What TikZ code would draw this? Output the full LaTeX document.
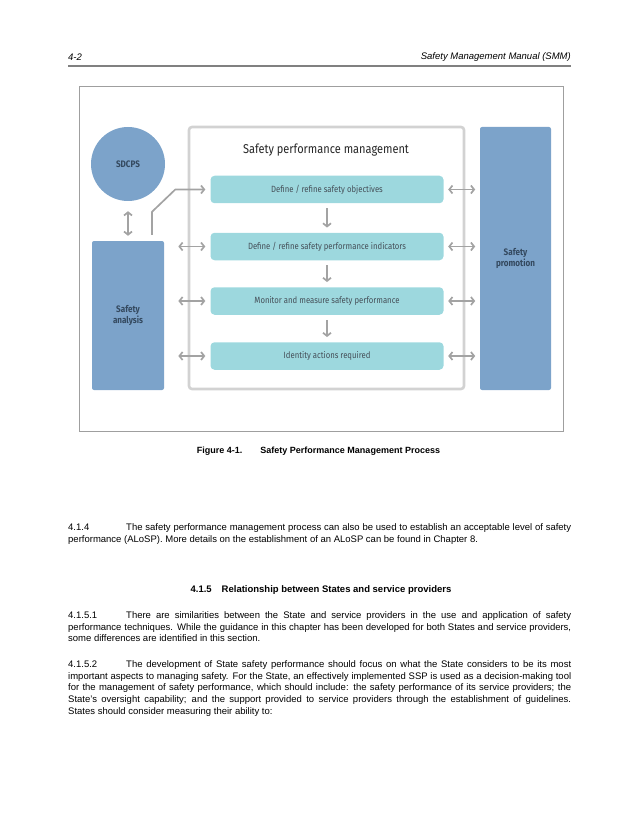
\documentclass[tikz,border=0pt]{standalone}
\usepackage{fontspec}
\setmainfont{Liberation Sans}
\newfontfamily\diagfont[FakeStretch=0.86]{Fira Sans}
\usetikzlibrary{arrows.meta}
\definecolor{steel}{HTML}{7CA3CA}
\definecolor{aqua}{HTML}{9DD8DE}
\definecolor{linegray}{HTML}{A3A3A3}
\definecolor{framegray}{HTML}{D2D2D2}
\definecolor{boxtext}{HTML}{454F58}
\definecolor{bluetext}{HTML}{34495F}
\tikzset{
  bluebox/.style={fill=steel, inner sep=0pt, align=center, text=bluetext,
    font=\diagfont\bfseries\fontsize{9.4}{11}\selectfont},
  stepbox/.style={fill=aqua, rounded corners=4pt, inner sep=0pt,
    minimum width=233pt, minimum height=27.5pt, text=boxtext,
    font=\diagfont\fontsize{9}{10}\selectfont},
  link/.style={draw=linegray, line width=1.7pt, line join=round},
  both/.style={link, {Straight Barb[length=3.2pt,width=8pt]}-{Straight Barb[length=3.2pt,width=8pt]}},
  onearrow/.style={link, -{Straight Barb[length=3.2pt,width=8pt]}},
  bodytext/.style={text width=503pt, align=justify, inner sep=0pt, anchor=north west,
    font=\fontsize{9.5}{11.7}\selectfont},
}
\begin{document}
\begin{tikzpicture}[x=1pt,y=-1pt]
\useasboundingbox (0,0) rectangle (638,826);
\node[anchor=west, inner sep=0pt, font=\itshape\fontsize{9.5}{11}\selectfont] (pagenum) at (68,57) {4-2};
\node[anchor=east, inner sep=0pt, font=\itshape\fontsize{9.5}{11}\selectfont] (manual) at (571,57) {Safety Management Manual (SMM)};
\draw[gray, line width=1.2pt] (68,66) -- (571,66);

\draw[gray!75, line width=0.8pt] (79,86) rectangle (563,431);
\node[draw=framegray, line width=2.6pt, rounded corners=3pt, inner sep=0pt,
      minimum width=275pt, minimum height=262pt] (spm) at (326.5,258) {};
\node[font=\diagfont\fontsize{12.8}{14}\selectfont, text=black!85] (spmtitle) at (326,150) {Safety performance management};

\node[bluebox, circle, minimum size=74pt] (sdcps) at (128,164) {SDCPS};
\node[bluebox, rounded corners=2pt, minimum width=72pt, minimum height=149pt] (analysis) at (128,315.5) {Safety\\analysis};
\node[bluebox, rounded corners=2pt, minimum width=71pt, minimum height=263pt] (promotion) at (515.5,258.5) {Safety\\promotion};

\node[stepbox] (objectives) at (327,189.5) {Define / refine safety objectives};
\node[stepbox] (indicators) at (327,246.5) {Define / refine safety performance indicators};
\node[stepbox] (monitor) at (327,301) {Monitor and measure safety performance};
\node[stepbox] (actions) at (327,356) {Identity actions required};

\foreach \a/\b in {objectives/indicators, indicators/monitor, monitor/actions}
  \draw[onearrow] ([yshift=-5pt]\a.south) -- ([yshift=5pt]\b.north);
\foreach \s in {indicators, monitor, actions}
  \draw[both] ([xshift=-32pt]\s.west) -- ([xshift=-5pt]\s.west);
\foreach \s in {objectives, indicators, monitor, actions}
  \draw[both] ([xshift=4.5pt]\s.east) -- ([xshift=31.5pt]\s.east);
\draw[both] ([yshift=-10pt]sdcps.south) -- ([yshift=5pt]analysis.north);
\draw[onearrow] ([xshift=24pt,yshift=6pt]analysis.north) -- ++(0,-23)
  -- ([xshift=-35pt]objectives.west) -- ([xshift=-5pt]objectives.west);

\node[font=\bfseries\fontsize{9}{11}\selectfont] (caption) at (318.5,451)
  {Figure 4-1.\hspace{18pt}Safety Performance Management Process};

\node[bodytext] (para414) at (68,523.5) {\noindent\makebox[58pt][l]{4.1.4}The safety performance management process can also be used to establish an acceptable level of safety\linebreak
performance (ALoSP). More details on the establishment of an ALoSP can be found in Chapter 8.};

\node[font=\bfseries\fontsize{9.5}{11}\selectfont] (heading) at (321,590)
  {4.1.5\hspace{10pt}Relationship between States and service providers};

\node[bodytext] (para4151) at (68,611.5) {\noindent\makebox[58pt][l]{4.1.5.1}There are similarities between the State and service providers in the use and application of safety\linebreak
performance techniques. While the guidance in this chapter has been developed for both States and service providers,\linebreak
some differences are identified in this section.};

\node[bodytext] (para4152) at (68,660.5) {\noindent\makebox[58pt][l]{4.1.5.2}The development of State safety performance should focus on what the State considers to be its most\linebreak
important aspects to managing safety. For the State, an effectively implemented SSP is used as a decision-making tool\linebreak
for the management of safety performance, which should include: the safety performance of its service providers; the\linebreak
State’s oversight capability; and the support provided to service providers through the establishment of guidelines.\linebreak
States should consider measuring their ability to:};
\end{tikzpicture}
\end{document}
